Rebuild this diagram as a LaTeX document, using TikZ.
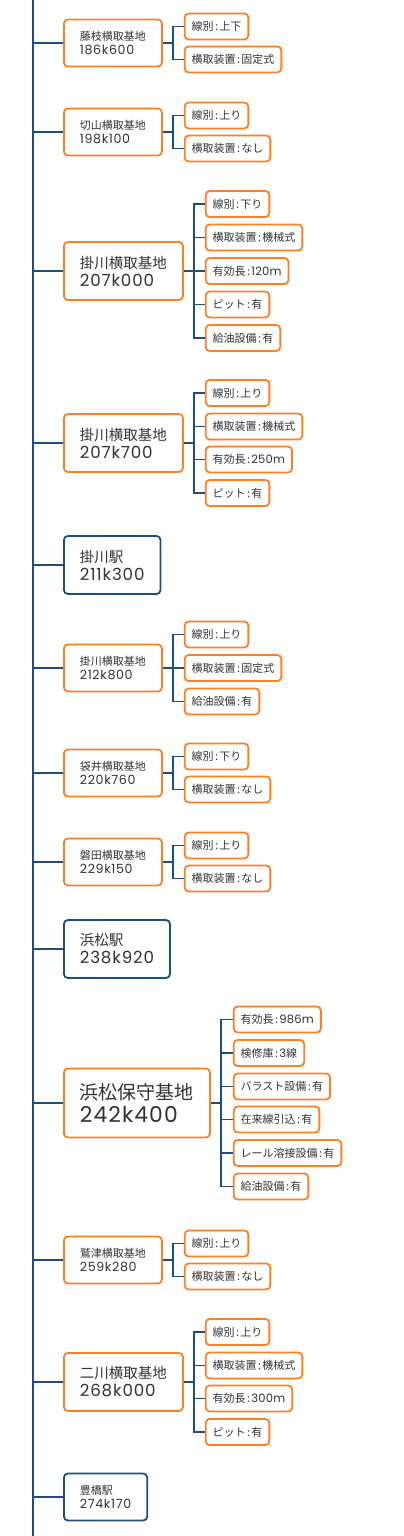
\documentclass[tikz,border=0pt]{standalone}
\usepackage{fontspec}
\setmainfont{Noto Sans CJK JP}
\newfontfamily\latin[Scale=1.15,LetterSpace=5]{Poppins}
\newfontfamily\latinc[Scale=1.05,LetterSpace=2]{Poppins}
\newcommand{\km}[1]{{\latin #1}}
\newcommand{\kmc}[1]{{\latinc #1}}
\newcommand{\sep}{\kern1.3pt:\kern1.3pt}
\definecolor{naranja}{HTML}{FF7F27}
\definecolor{azul}{HTML}{1F4E7A}
\definecolor{texto}{HTML}{333333}
\tikzset{
  caja/.style={draw, rounded corners=4pt, fill=white, line width=1.8pt, text=texto,
    anchor=west, align=left, inner xsep=16pt, inner ysep=0pt},
  kichi/.style={caja, draw=naranja, font=\fontsize{11}{14}\selectfont, minimum height=47pt},
  kichig/.style={caja, draw=naranja, font=\fontsize{14.5}{18}\selectfont, minimum height=58pt},
  kichih/.style={caja, draw=naranja, font=\fontsize{19}{23}\selectfont, minimum height=69pt},
  eki/.style={caja, draw=azul, font=\fontsize{14.5}{18}\selectfont, minimum height=58pt},
  ekip/.style={caja, draw=azul, font=\fontsize{11}{14}\selectfont, minimum height=47pt},
  eda/.style={caja, draw=naranja, font=\fontsize{11}{13}\selectfont, inner xsep=7pt,
    minimum height=26pt},
  rosen/.style={draw=azul, line width=1.7pt},
}
\begin{document}
\begin{tikzpicture}[x=1pt, y=-1pt, line cap=butt]
  \useasboundingbox (0,0) rectangle (404,1536);
  % linea principal
  \coordinate (kanjo) at (33,0);
  \coordinate (kanmatsu) at (33,1536);
  \draw[rosen, line width=2pt] (kanjo) -- (kanmatsu);

  % 藤枝
  \node[kichi] (fujieda) at (63,43) {藤枝横取基地\\\km{186k600}};
  \node[eda] (fujieda1) at ([xshift=21pt,yshift=16.5pt]fujieda.east) {線別\sep 上下};
  \node[eda] (fujieda2) at ([xshift=21pt,yshift=-16.5pt]fujieda.east) {横取装置\sep 固定式};
  \draw[rosen] (kanjo |- fujieda.west) -- (fujieda.west);
  \draw[rosen] (fujieda.east) -- ++(10pt,0) |- (fujieda1.west);
  \draw[rosen] (fujieda.east) -- ++(10pt,0) |- (fujieda2.west);

  % 切山
  \node[kichi] (kiriyama) at (63,132) {切山横取基地\\\km{198k100}};
  \node[eda] (kiriyama1) at ([xshift=21pt,yshift=16.5pt]kiriyama.east) {線別\sep 上り};
  \node[eda] (kiriyama2) at ([xshift=21pt,yshift=-16.5pt]kiriyama.east) {横取装置\sep なし};
  \draw[rosen] (kanjo |- kiriyama.west) -- (kiriyama.west);
  \draw[rosen] (kiriyama.east) -- ++(10pt,0) |- (kiriyama1.west);
  \draw[rosen] (kiriyama.east) -- ++(10pt,0) |- (kiriyama2.west);

  % 掛川 207k000
  \node[kichig] (kakegawaA) at (63,271) {掛川横取基地\\\km{207k000}};
  \node[eda] (kakegawaA1) at ([xshift=21pt,yshift=67pt]kakegawaA.east) {線別\sep 下り};
  \node[eda] (kakegawaA2) at ([xshift=21pt,yshift=33.5pt]kakegawaA.east) {横取装置\sep 機械式};
  \node[eda] (kakegawaA3) at ([xshift=21pt]kakegawaA.east) {有効長\sep\kmc{120m}};
  \node[eda] (kakegawaA4) at ([xshift=21pt,yshift=-33.5pt]kakegawaA.east) {ピット\sep 有};
  \node[eda] (kakegawaA5) at ([xshift=21pt,yshift=-67pt]kakegawaA.east) {給油設備\sep 有};
  \draw[rosen] (kanjo |- kakegawaA.west) -- (kakegawaA.west);
  \draw[rosen] (kakegawaA.east) -- ++(10pt,0) |- (kakegawaA1.west);
  \draw[rosen] (kakegawaA.east) -- ++(10pt,0) |- (kakegawaA2.west);
  \draw[rosen] (kakegawaA.east) -- (kakegawaA3.west);
  \draw[rosen] (kakegawaA.east) -- ++(10pt,0) |- (kakegawaA4.west);
  \draw[rosen] (kakegawaA.east) -- ++(10pt,0) |- (kakegawaA5.west);

  % 掛川 207k700
  \node[kichig] (kakegawaB) at (63,443) {掛川横取基地\\\km{207k700}};
  \node[eda] (kakegawaB1) at ([xshift=21pt,yshift=50pt]kakegawaB.east) {線別\sep 上り};
  \node[eda] (kakegawaB2) at ([xshift=21pt,yshift=16.5pt]kakegawaB.east) {横取装置\sep 機械式};
  \node[eda] (kakegawaB3) at ([xshift=21pt,yshift=-16.5pt]kakegawaB.east) {有効長\sep\kmc{250m}};
  \node[eda] (kakegawaB4) at ([xshift=21pt,yshift=-50pt]kakegawaB.east) {ピット\sep 有};
  \draw[rosen] (kanjo |- kakegawaB.west) -- (kakegawaB.west);
  \foreach \i in {1,...,4}
    \draw[rosen] (kakegawaB.east) -- ++(10pt,0) |- (kakegawaB\i.west);

  % 掛川駅
  \node[eki] (kakegawaEki) at (63,565) {掛川駅\\\km{211k300}};
  \draw[rosen] (kanjo |- kakegawaEki.west) -- (kakegawaEki.west);

  % 掛川 212k800
  \node[kichi] (kakegawaC) at (63,668) {掛川横取基地\\\km{212k800}};
  \node[eda] (kakegawaC1) at ([xshift=21pt,yshift=33.5pt]kakegawaC.east) {線別\sep 上り};
  \node[eda] (kakegawaC2) at ([xshift=21pt]kakegawaC.east) {横取装置\sep 固定式};
  \node[eda] (kakegawaC3) at ([xshift=21pt,yshift=-33.5pt]kakegawaC.east) {給油設備\sep 有};
  \draw[rosen] (kanjo |- kakegawaC.west) -- (kakegawaC.west);
  \foreach \i in {1,...,3}
    \draw[rosen] (kakegawaC.east) -- ++(10pt,0) |- (kakegawaC\i.west);

  % 袋井
  \node[kichi] (fukuroi) at (63,773) {袋井横取基地\\\km{220k760}};
  \node[eda] (fukuroi1) at ([xshift=21pt,yshift=16.5pt]fukuroi.east) {線別\sep 下り};
  \node[eda] (fukuroi2) at ([xshift=21pt,yshift=-16.5pt]fukuroi.east) {横取装置\sep なし};
  \draw[rosen] (kanjo |- fukuroi.west) -- (fukuroi.west);
  \foreach \i in {1,2}
    \draw[rosen] (fukuroi.east) -- ++(10pt,0) |- (fukuroi\i.west);

  % 磐田
  \node[kichi] (iwata) at (63,862) {磐田横取基地\\\km{229k150}};
  \node[eda] (iwata1) at ([xshift=21pt,yshift=16.5pt]iwata.east) {線別\sep 上り};
  \node[eda] (iwata2) at ([xshift=21pt,yshift=-16.5pt]iwata.east) {横取装置\sep なし};
  \draw[rosen] (kanjo |- iwata.west) -- (iwata.west);
  \foreach \i in {1,2}
    \draw[rosen] (iwata.east) -- ++(10pt,0) |- (iwata\i.west);

  % 浜松駅
  \node[eki] (hamamatsuEki) at (63,949) {浜松駅\\\km{238k920}};
  \draw[rosen] (kanjo |- hamamatsuEki.west) -- (hamamatsuEki.west);

  % 浜松保守基地
  \node[kichih] (hamamatsu) at (63,1103) {浜松保守基地\\\km{242k400}};
  \node[eda] (hamamatsu1) at ([xshift=22pt,yshift=83.5pt]hamamatsu.east) {有効長\sep\kmc{986m}};
  \node[eda] (hamamatsu2) at ([xshift=22pt,yshift=50pt]hamamatsu.east) {検修庫\sep\kmc{3}線};
  \node[eda] (hamamatsu3) at ([xshift=22pt,yshift=16.5pt]hamamatsu.east) {バラスト設備\sep 有};
  \node[eda] (hamamatsu4) at ([xshift=22pt,yshift=-16.5pt]hamamatsu.east) {在来線引込\sep 有};
  \node[eda] (hamamatsu5) at ([xshift=22pt,yshift=-50pt]hamamatsu.east) {レール溶接設備\sep 有};
  \node[eda] (hamamatsu6) at ([xshift=22pt,yshift=-83.5pt]hamamatsu.east) {給油設備\sep 有};
  \draw[rosen] (kanjo |- hamamatsu.west) -- (hamamatsu.west);
  \foreach \i in {1,...,6}
    \draw[rosen] (hamamatsu.east) -- ++(10pt,0) |- (hamamatsu\i.west);

  % 鷲津
  \node[kichi] (washizu) at (63,1260) {鷲津横取基地\\\km{259k280}};
  \node[eda] (washizu1) at ([xshift=21pt,yshift=16.5pt]washizu.east) {線別\sep 上り};
  \node[eda] (washizu2) at ([xshift=21pt,yshift=-16.5pt]washizu.east) {横取装置\sep なし};
  \draw[rosen] (kanjo |- washizu.west) -- (washizu.west);
  \foreach \i in {1,2}
    \draw[rosen] (washizu.east) -- ++(10pt,0) |- (washizu\i.west);

  % 二川
  \node[kichig] (futagawa) at (63,1382) {二川横取基地\\\km{268k000}};
  \node[eda] (futagawa1) at ([xshift=21pt,yshift=50pt]futagawa.east) {線別\sep 上り};
  \node[eda] (futagawa2) at ([xshift=21pt,yshift=16.5pt]futagawa.east) {横取装置\sep 機械式};
  \node[eda] (futagawa3) at ([xshift=21pt,yshift=-16.5pt]futagawa.east) {有効長\sep\kmc{300m}};
  \node[eda] (futagawa4) at ([xshift=21pt,yshift=-50pt]futagawa.east) {ピット\sep 有};
  \draw[rosen] (kanjo |- futagawa.west) -- (futagawa.west);
  \foreach \i in {1,...,4}
    \draw[rosen] (futagawa.east) -- ++(10pt,0) |- (futagawa\i.west);

  % 豊橋駅
  \node[ekip] (toyohashiEki) at (63,1497) {豊橋駅\\\km{274k170}};
  \draw[rosen] (kanjo |- toyohashiEki.west) -- (toyohashiEki.west);
\end{tikzpicture}
\end{document}
